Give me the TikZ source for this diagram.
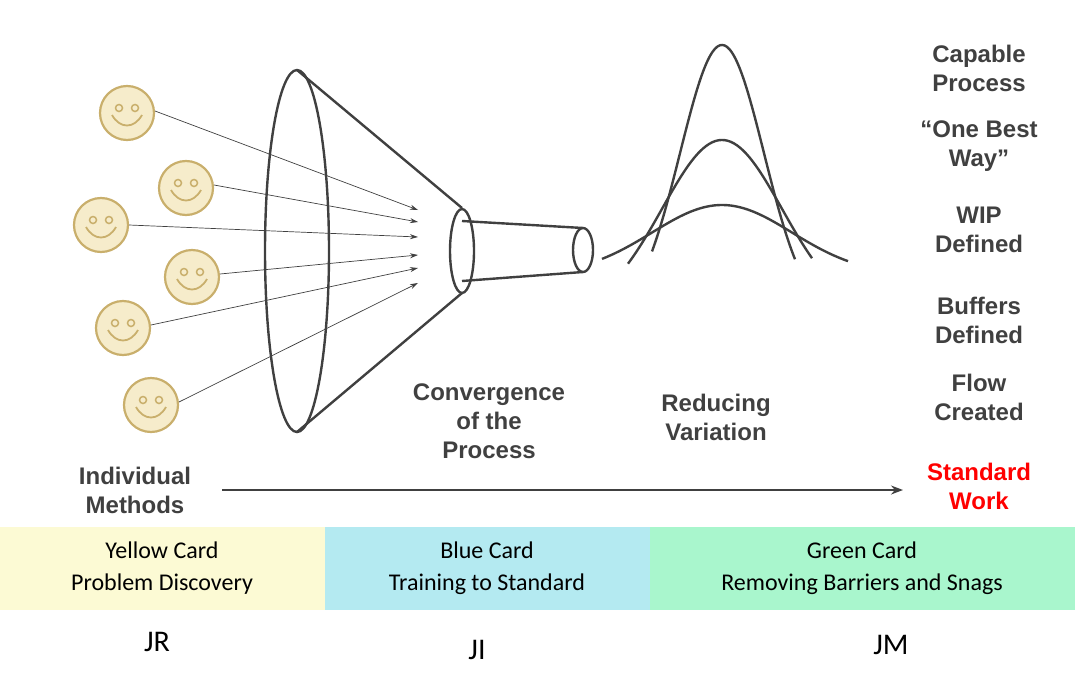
\documentclass[tikz,border=0pt]{standalone}
\usepackage{fontspec}
\setmainfont{Liberation Sans}
\newfontfamily\cardfont{Carlito}
\usetikzlibrary{arrows.meta}
\definecolor{txt}{HTML}{404040}
\definecolor{face}{HTML}{F6ECCB}
\definecolor{rim}{HTML}{C9AF6C}
\definecolor{ycard}{HTML}{FCFAD4}
\definecolor{bcard}{HTML}{B4EAF1}
\definecolor{gcard}{HTML}{A9F6CD}
\tikzset{
 smile/.pic={\fill[face,draw=rim,line width=2.2pt] (0,0) circle (27);
   \draw[rim,line width=1.5pt] (-8,-5) circle (3.5); \draw[rim,line width=1.5pt] (8,-5) circle (3.5);
   \draw[rim,line width=1.8pt] (-15,2) .. controls (-7,16) and (7,16) .. (15,2);},
 ray/.style={draw=txt,line width=0.7pt,-{Stealth[length=8pt,width=5pt]}},
 lab/.style={font=\bfseries\fontsize{24}{29}\selectfont,text=txt,align=center},
 card/.style={font=\cardfont\fontsize{24}{32}\selectfont,align=center,text=black},
 big/.style={font=\cardfont\fontsize{30}{34}\selectfont},
 fun/.style={draw=txt,line width=2.4pt}
}
\begin{document}
\begin{tikzpicture}[x=1pt,y=-1pt]
\useasboundingbox (0,0) rectangle (1075,693);
% smileys
\foreach \n/\x/\y in {s1/127/113,s2/186/188,s3/101/225,s4/192/277,s5/123/328,s6/151/405}
  {\pic at (\x,\y) {smile}; \coordinate (\n) at (\x,\y);}
\foreach \n/\e in {1/210,2/222,3/237,4/255,5/268,6/283}
  {\coordinate (e\n) at (418,\e);}
\draw[ray] ([shift={(28,-2)}]s1) -- (e1);
\draw[ray] ([shift={(28,-3)}]s2) -- (e2);
\draw[ray] ([shift={(28,0)}]s3) -- (e3);
\draw[ray] ([shift={(28,-3)}]s4) -- (e4);
\draw[ray] ([shift={(28,-3)}]s5) -- (e5);
\draw[ray] ([shift={(28,-3)}]s6) -- (e6);
% funnel
\draw[fun] (297,251) ellipse (32 and 181);
\draw[fun] (297,70) -- (462,208);
\draw[fun] (297,432) -- (462,293);
\draw[fun] (462,251) ellipse (12 and 42);
\draw[fun] (462,221) -- (583,228);
\draw[fun] (462,281) -- (583,272);
\draw[fun] (583,250) ellipse (10 and 22);
% bells
\draw[fun] plot[smooth,samples=60,domain=-70:73] ({722+\x},{320-275*exp(-(\x)^2/(2*42^2))});
\draw[fun] plot[smooth,samples=60,domain=-94:90] ({722+\x},{315-175*exp(-(\x)^2/(2*60^2))});
\draw[fun] plot[smooth,samples=60,domain=-120:126] ({722+\x},{275-70*exp(-(\x)^2/(2*70^2))});
% labels
\node[lab] (a) at (979,68) {Capable\\Process};
\node[lab] (b) at (979,146) {“One Best\\Way”};
\node[lab] (c) at (979,230) {WIP\\Defined};
\node[lab] (d) at (979,320) {Buffers\\Defined};
\node[lab] (f) at (979,397) {Flow\\Created};
\node[lab,text=red] (sw) at (979,486) {Standard\\Work};
\node[lab] (cv) at (489,421) {Convergence\\of the\\Process};
\node[lab] (rv) at (716,417) {Reducing\\Variation};
\node[lab] (im) at (135,490) {Individual\\Methods};
\draw[draw=txt,line width=1.5pt,-{Stealth[length=12pt,width=9pt]}] (222,490) -- (903,490);
% cards
\fill[ycard] (0,527) rectangle (325,610);
\fill[bcard] (325,527) rectangle (650,610);
\fill[gcard] (650,527) rectangle (1075,610);
\node[card] (y) at (162,568) {Yellow Card\\Problem Discovery};
\node[card] (bl) at (487,568) {Blue Card\\Training to Standard};
\node[card] (g) at (862,568) {Green Card\\Removing Barriers and Snags};
\node[big] (jr) at (157,642) {JR};
\node[big] (ji) at (477,650) {JI};
\node[big] (jm) at (891,645) {JM};
\end{tikzpicture}
\end{document}
